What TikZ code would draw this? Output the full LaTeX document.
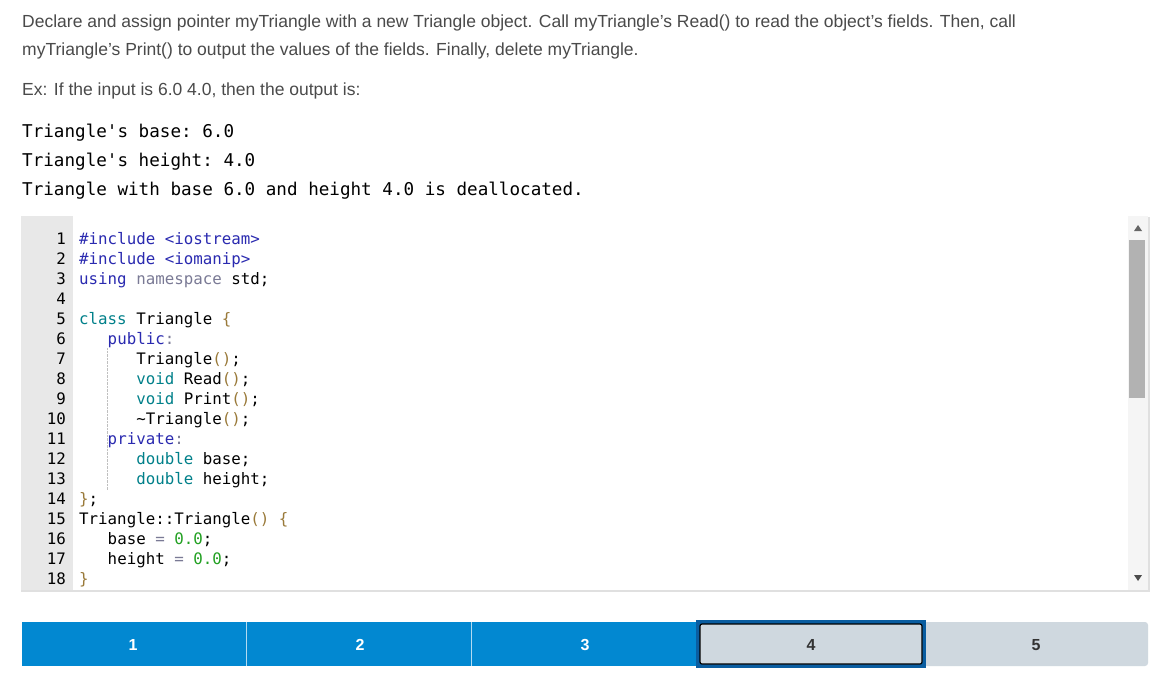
\documentclass[tikz,border=0pt]{standalone}
\usepackage{fontspec}
\setmainfont{Liberation Sans}
\setmonofont{DejaVu Sans Mono}
\definecolor{prose}{HTML}{4A4A4A}
\definecolor{kw}{HTML}{2A2AB0}
\definecolor{ns}{HTML}{7A7A95}
\definecolor{ty}{HTML}{00808A}
\definecolor{br}{HTML}{9A7A3A}
\definecolor{nm}{HTML}{22A022}
\definecolor{gut}{HTML}{E8E8E8}
\definecolor{bblue}{HTML}{0288D1}
\definecolor{bgray}{HTML}{CFD8DF}
\definecolor{dblue}{HTML}{0A5DA0}
\newcommand{\K}[1]{\textcolor{kw}{#1}}
\newcommand{\N}[1]{\textcolor{ns}{#1}}
\newcommand{\T}[1]{\textcolor{ty}{#1}}
\newcommand{\B}[1]{\textcolor{br}{#1}}
\newcommand{\M}[1]{\textcolor{nm}{#1}}
\begin{document}
\begin{tikzpicture}[x=1pt,y=-1pt,
  prosetxt/.style={anchor=base west,inner sep=0,text=prose,font=\fontsize{17.5}{20}\selectfont},
  outtxt/.style={anchor=base west,inner sep=0,font=\ttfamily\fontsize{17.6}{20}\selectfont},
  codetxt/.style={anchor=base west,inner sep=0,font=\ttfamily\fontsize{15.8}{18}\selectfont},
  lnum/.style={anchor=base east,inner sep=0,font=\ttfamily\fontsize{15.8}{18}\selectfont},
  btnlbl/.style={inner sep=0,font=\bfseries\fontsize{16}{18}\selectfont}]
\useasboundingbox[fill=white] (0,0) rectangle (1158,682);
% prose
\node[prosetxt] (p1) at (22,28) {Declare and assign pointer myTriangle with a new Triangle object. Call myTriangle's Read() to read the object's fields. Then, call};
\node[prosetxt] (p2) at (22,56) {myTriangle's Print() to output the values of the fields. Finally, delete myTriangle.};
\node[prosetxt] (p3) at (22,96) {Ex: If the input is 6.0 4.0, then the output is:};
\node[outtxt] (o1) at (22,137) {Triangle's base: 6.0};
\node[outtxt] (o2) at (22,166) {Triangle's height: 4.0};
\node[outtxt] (o3) at (22,195) {Triangle with base 6.0 and height 4.0 is deallocated.};
% code box
\fill[black!12] (21,217) rectangle (1150,592);
\fill[white] (21,215) rectangle (1148,590);
\fill[gut] (21,216) rectangle (73,590);
% scrollbar
\fill[black!4] (1128,216) rectangle (1148,590);
\fill[black!30] (1129,240) rectangle (1145,398);
\fill[black!60] (1134,231) -- (1142,231) -- (1138,225) -- cycle;
\fill[black!70] (1134,575) -- (1142,575) -- (1138,581) -- cycle;
% indent guides
\draw[black!25,densely dotted] (107,348) -- (107,490);
% line numbers
\foreach \i in {1,...,18} {
  \node[lnum] (ln\i) at (66,224+20*\i) {\i};
}
\node[codetxt] (c1) at (79,244) {\K{\#include <iostream>}};
\node[codetxt] (c2) at (79,264) {\K{\#include <iomanip>}};
\node[codetxt] (c3) at (79,284) {\K{using} \N{namespace} std;};
\node[codetxt] (c5) at (79,324) {\T{class} Triangle \B{\{}};
\node[codetxt] (c6) at (79,344) {\hphantom{xxx}\K{public}\N{:}};
\node[codetxt] (c7) at (79,364) {\hphantom{xxxxxx}Triangle\B{()};};
\node[codetxt] (c8) at (79,384) {\hphantom{xxxxxx}\T{void} Read\B{()};};
\node[codetxt] (c9) at (79,404) {\hphantom{xxxxxx}\T{void} Print\B{()};};
\node[codetxt] (c10) at (79,424) {\hphantom{xxxxxx}\char`\~Triangle\B{()};};
\node[codetxt] (c11) at (79,444) {\hphantom{xxx}\K{private}\N{:}};
\node[codetxt] (c12) at (79,464) {\hphantom{xxxxxx}\T{double} base;};
\node[codetxt] (c13) at (79,484) {\hphantom{xxxxxx}\T{double} height;};
\node[codetxt] (c14) at (79,504) {\B{\}};};
\node[codetxt] (c15) at (79,524) {Triangle::Triangle\B{()} \B{\{}};
\node[codetxt] (c16) at (79,544) {\hphantom{xxx}base \N{=} \M{0.0};};
\node[codetxt] (c17) at (79,564) {\hphantom{xxx}height \N{=} \M{0.0};};
\node[codetxt] (c18) at (79,584) {\B{\}}};
% buttons
\fill[bblue] (22,622) rectangle (698,666);
\draw[white!70!bblue] (246,622) -- (246,666) (471,622) -- (471,666);
\fill[bgray,rounded corners=3pt] (924,622) rectangle (1148,666);
\fill[dblue] (696,620) rectangle (926,668);
\fill[bgray,draw=black,line width=1.2pt,rounded corners=2pt] (700,624) rectangle (922,664);
\node[btnlbl,text=white] (b1) at (133,645) {1};
\node[btnlbl,text=white] (b2) at (360,645) {2};
\node[btnlbl,text=white] (b3) at (585,645) {3};
\node[btnlbl,text=black!80] (b4) at (811,645) {4};
\node[btnlbl,text=black!80] (b5) at (1036,645) {5};
\end{tikzpicture}
\end{document}
